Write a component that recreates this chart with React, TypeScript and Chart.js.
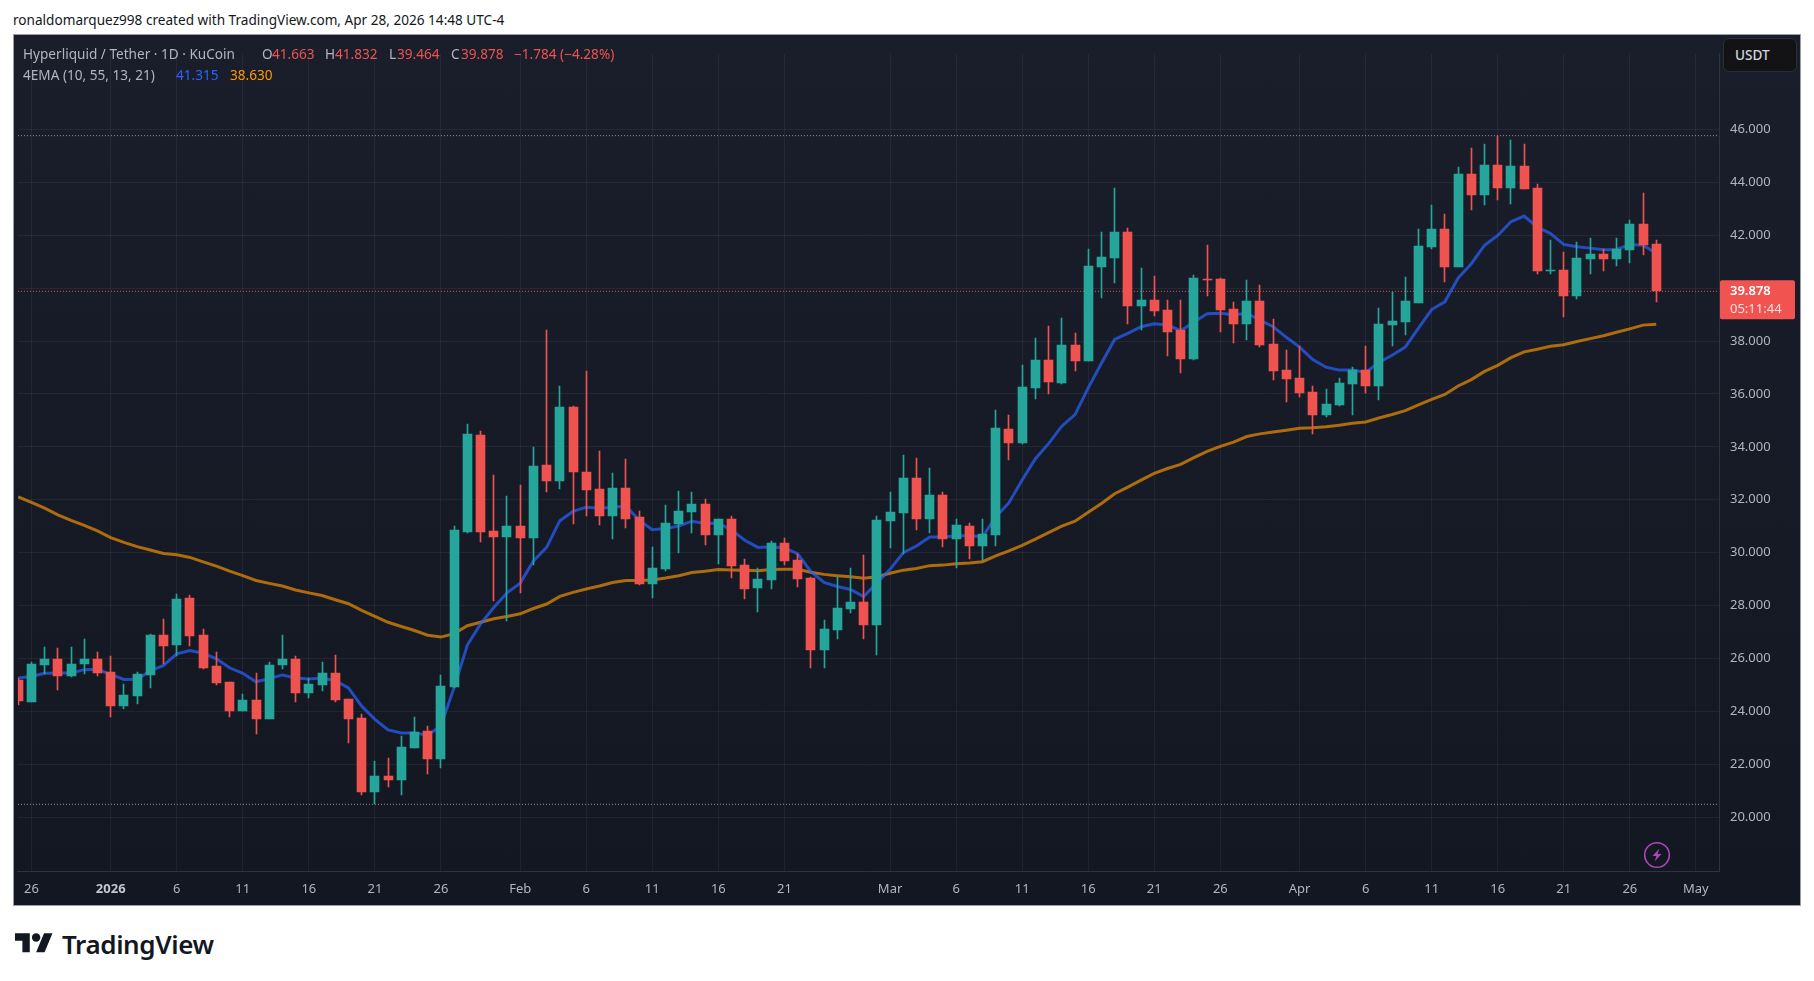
import React, { useEffect, useRef } from "react";
import { Chart, registerables } from "chart.js";

Chart.register(...registerables);

const opens = [
  25.19,24.37,25.77,25.99,25.33,25.81,25.99,25.48,24.22,24.59,
  25.37,26.88,26.51,28.28,26.88,25.70,25.11,24.00,24.44,23.70,
  25.74,25.99,24.70,25.00,25.44,24.48,23.74,20.97,21.56,21.42,
  22.63,23.26,22.19,24.94,30.78,34.43,30.81,30.59,31.00,30.55,
  33.32,32.70,35.50,33.06,32.40,31.37,32.44,31.33,28.82,29.37,
  31.07,31.55,31.85,30.66,31.26,29.52,28.67,28.97,30.37,29.74,
  29.04,26.34,27.08,27.86,28.12,27.27,31.18,31.51,32.84,31.29,
  32.18,30.52,31.00,30.26,30.66,34.67,34.15,36.22,37.29,36.41,
  37.85,37.26,40.80,41.13,42.13,39.32,39.54,39.18,38.40,37.33,
  40.36,40.36,39.21,38.66,39.51,37.88,36.89,36.59,36.07,35.19,
  35.59,36.37,36.89,36.30,38.62,38.73,39.45,41.55,42.25,40.81,
  44.32,43.51,44.65,43.80,44.62,43.77,40.66,40.70,39.70,41.11,
  41.29,41.11,41.44,42.44,41.663,
];
const closes = [
  24.41,25.81,25.99,25.33,25.81,25.99,25.44,24.22,24.63,25.40,
  26.88,26.47,28.25,26.84,25.66,25.07,24.00,24.44,23.70,25.77,
  25.99,24.70,25.03,25.44,24.44,23.70,20.97,21.56,21.42,22.67,
  23.22,22.19,24.96,30.87,34.47,30.78,30.59,31.00,30.55,33.29,
  32.70,35.50,33.06,32.36,31.37,32.44,31.29,28.82,29.41,31.11,
  31.59,31.85,30.66,31.26,29.48,28.63,29.00,30.37,29.70,29.00,
  26.34,27.12,27.90,28.12,27.27,31.22,31.55,32.84,31.26,32.18,
  30.52,31.03,30.26,30.70,34.71,34.15,36.26,37.29,36.44,37.85,
  37.26,40.84,41.17,42.13,39.32,39.54,39.14,38.33,37.33,40.39,
  40.32,39.18,38.66,39.51,37.85,36.85,36.55,36.04,35.22,35.63,
  36.41,36.89,36.30,38.66,38.77,39.51,41.59,42.25,40.81,44.32,
  43.51,44.65,43.80,44.62,43.73,40.66,40.70,39.70,41.14,41.29,
  41.11,41.48,42.44,41.62,39.878,
];
const highs = [
  25.25,25.88,26.44,26.38,26.44,26.73,26.25,26.10,25.03,25.48,
  26.92,27.51,28.43,28.39,27.10,26.25,25.11,24.66,25.44,25.88,
  26.88,26.10,25.26,25.85,26.14,24.48,23.89,22.12,22.23,23.08,
  23.78,23.45,25.37,31.02,34.87,34.58,32.92,32.14,32.55,33.99,
  38.42,36.31,35.54,36.87,33.84,33.03,33.54,31.59,30.22,31.81,
  32.33,32.29,32.03,31.26,31.40,29.78,29.41,30.44,30.55,29.96,
  29.08,27.45,29.08,29.41,29.93,31.40,32.29,33.69,33.58,33.21,
  32.29,31.29,31.11,31.26,35.39,35.22,37.11,38.10,38.58,38.88,
  38.29,41.46,42.13,43.79,42.28,40.76,40.47,39.54,39.54,40.50,
  41.61,40.39,39.47,40.32,40.10,38.84,37.66,37.81,36.30,36.18,
  36.59,37.03,37.81,39.25,39.84,40.43,42.25,43.14,42.81,44.58,
  45.28,45.46,45.76,45.58,45.43,43.95,41.81,41.37,41.74,41.88,
  41.48,41.88,42.58,43.58,41.832,
];
const lows = [
  24.23,24.37,25.40,24.81,25.30,25.40,25.33,23.78,24.11,24.30,
  24.89,25.81,26.10,26.47,25.62,25.00,23.78,24.00,23.15,23.70,
  25.62,24.37,24.52,24.78,24.37,22.82,20.86,20.49,21.16,20.86,
  22.60,21.64,21.86,24.90,30.73,30.41,28.19,27.42,28.49,29.52,
  32.29,32.40,31.07,31.37,31.03,30.52,30.92,28.78,28.30,29.30,
  30.00,30.74,30.30,29.56,29.04,28.26,27.75,28.63,29.52,28.71,
  25.64,25.64,26.75,27.71,26.75,26.12,30.18,29.96,30.85,30.74,
  30.22,29.41,29.78,29.70,30.26,33.49,34.12,35.82,36.00,36.37,
  36.85,37.26,39.62,40.21,38.66,38.40,38.95,37.44,36.78,37.29,
  39.69,38.33,37.92,38.03,37.77,36.52,35.70,35.89,34.49,35.11,
  35.56,35.19,36.04,35.78,37.81,38.22,39.45,41.48,40.22,40.78,
  42.95,43.14,43.32,43.18,43.73,40.52,40.55,38.89,39.59,40.52,
  40.66,40.85,40.96,41.26,39.464,
];
const emaFast = [
  25.26,25.32,25.44,25.45,25.45,25.58,25.59,25.40,25.21,25.22,
  25.53,25.74,26.18,26.30,26.20,25.99,25.65,25.44,25.12,25.24,
  25.38,25.26,25.23,25.26,25.16,24.89,24.20,23.70,23.30,23.19,
  23.19,23.10,23.46,24.91,26.51,27.31,27.93,28.48,28.85,29.69,
  30.20,31.21,31.56,31.72,31.68,31.72,31.76,31.23,30.87,30.91,
  31.01,31.19,31.10,31.11,30.86,30.47,30.20,30.22,30.18,29.96,
  29.29,28.88,28.72,28.61,28.34,28.86,29.37,30.00,30.25,30.59,
  30.59,30.64,30.64,30.60,31.35,31.89,32.75,33.55,34.12,34.78,
  35.22,36.23,37.16,38.06,38.29,38.54,38.65,38.61,38.39,38.72,
  39.03,39.05,38.99,39.05,38.79,38.54,38.14,37.77,37.30,37.01,
  36.90,36.90,36.81,37.19,37.46,37.77,38.49,39.19,39.48,40.38,
  40.92,41.62,41.99,42.51,42.72,42.30,42.06,41.65,41.56,41.51,
  41.45,41.46,41.65,41.62,41.315,
];
const emaSlow = [
  32.11,31.90,31.68,31.43,31.22,31.03,30.82,30.57,30.39,30.23,
  30.10,29.97,29.92,29.82,29.65,29.49,29.30,29.13,28.95,28.84,
  28.74,28.59,28.48,28.38,28.22,28.07,27.82,27.59,27.37,27.21,
  27.06,26.88,26.81,26.94,27.24,27.37,27.50,27.59,27.69,27.89,
  28.06,28.35,28.50,28.63,28.74,28.87,28.95,28.95,28.97,29.04,
  29.13,29.25,29.30,29.36,29.35,29.34,29.32,29.36,29.37,29.37,
  29.26,29.18,29.13,29.09,29.03,29.09,29.22,29.34,29.40,29.51,
  29.53,29.58,29.61,29.66,29.88,30.07,30.28,30.51,30.76,31.00,
  31.19,31.53,31.86,32.23,32.48,32.74,33.00,33.18,33.34,33.59,
  33.83,34.02,34.18,34.39,34.49,34.56,34.63,34.70,34.72,34.76,
  34.82,34.89,34.94,35.09,35.22,35.37,35.59,35.79,35.98,36.30,
  36.54,36.85,37.08,37.37,37.59,37.69,37.80,37.86,37.98,38.09,
  38.20,38.33,38.46,38.60,38.63,
];
const sessionDays = [1, 7, 12, 17, 22, 27, 32, 38, 43, 48, 53, 58, 66, 71, 76, 81, 86, 91, 97, 102, 107, 112, 117, 122, 127];
const sessionLabels = ["26", "2026", "6", "11", "16", "21", "26", "Feb", "6", "11", "16", "21", "Mar", "6", "11", "16", "21", "26", "Apr", "6", "11", "16", "21", "26", "May"];
const priceTicks = [20, 22, 24, 26, 28, 30, 32, 34, 36, 38, 40, 42, 44, 46];
const rangeHigh = 45.76;
const rangeLow = 20.49;
const lastPrice = 39.878;
const countdown = "05:11:44";

const UP = "#26a69a";
const DOWN = "#ef5350";
const FONT = "'Noto Sans', sans-serif";
const X_MIN = -0.023;
const X_MAX = 128.75;

const pricePlugin = {
  id: "priceTag",
  beforeDatasetsDraw(chart: any) {
    chart.data.datasets.forEach((ds: any, idx: number) => {
      if (ds.type !== "bar") return;
      chart.getDatasetMeta(idx).data.forEach((el: any) => {
        el.x = Math.round(el.x - 0.5) + 0.5;
        el.y = Math.round(el.y);
        el.base = Math.round(el.base);
        if (Math.abs(el.base - el.y) < 1) el.base = el.y + 1;
      });
    });
  },
  afterDraw(chart: any) {
    const { ctx, chartArea, scales } = chart;
    const py = scales.y.getPixelForValue(lastPrice);
    const left = chartArea.right + 1;
    ctx.save();
    ctx.fillStyle = "#f15350";
    ctx.beginPath();
    ctx.roundRect(left, py - 11, 75, 39, 2);
    ctx.fill();
    ctx.textBaseline = "middle";
    ctx.textAlign = "left";
    ctx.font = `600 13px ${FONT}`;
    ctx.fillStyle = "#ffffff";
    ctx.fillText(lastPrice.toFixed(3), left + 10, py);
    ctx.font = `400 13px ${FONT}`;
    ctx.fillStyle = "rgba(255,255,255,0.82)";
    ctx.fillText(countdown, left + 10, py + 18);
    ctx.restore();
  },
};

function Txt({ x, y, c, s = 14, w = 400, t, ls = 0 }: any) {
  return (
    <div
      style={{
        position: "absolute",
        left: x,
        top: y,
        transform: "translateY(-50%)",
        color: c,
        fontSize: s,
        fontWeight: w,
        fontFamily: FONT,
        letterSpacing: ls,
        whiteSpace: "pre",
        lineHeight: 1,
      }}
    >
      {t}
    </div>
  );
}

export default function App() {
  const ref = useRef<HTMLCanvasElement>(null);
  useEffect(() => {
    const idx = closes.map((_, i) => i);
    const col = (ctx: any) => (closes[ctx.dataIndex] >= opens[ctx.dataIndex] ? UP : DOWN);
    const hLine = (v: number, color: string, order: number) => ({
      type: "line",
      data: [{ x: X_MIN, y: v }, { x: X_MAX, y: v }],
      borderColor: color,
      borderWidth: 1,
      borderDash: [1, 2],
      pointRadius: 0,
      order,
    });
    const chart = new Chart(ref.current as HTMLCanvasElement, {
      type: "line",
      data: {
        datasets: [
          hLine(rangeHigh, "rgba(190,193,200,0.75)", 6),
          hLine(rangeLow, "rgba(190,193,200,0.75)", 6),
          hLine(lastPrice, "#ef5350", 6),
          {
            type: "line",
            label: "EMA 55",
            data: idx.map((i) => ({ x: i, y: emaSlow[i] })),
            borderColor: "rgba(255,152,0,0.65)",
            borderWidth: 3,
            pointRadius: 0,
            tension: 0,
            order: 5,
          },
          {
            type: "line",
            label: "EMA 10",
            data: idx.map((i) => ({ x: i, y: emaFast[i] })),
            borderColor: "rgba(41,98,255,0.7)",
            borderWidth: 3,
            pointRadius: 0,
            tension: 0,
            order: 4,
          },
          {
            type: "bar",
            label: "Wick",
            data: idx.map((i) => ({ x: i, y: [lows[i], highs[i]] })),
            backgroundColor: col,
            barThickness: 1,
            grouped: false,
            order: 3,
          },
          {
            type: "bar",
            label: "Body",
            data: idx.map((i) => ({ x: i, y: [opens[i], closes[i]] })),
            backgroundColor: col,
            barThickness: 9,
            minBarLength: 1,
            grouped: false,
            order: 2,
          },
        ] as any,
      },
      options: {
        responsive: false,
        maintainAspectRatio: false,
        animation: false,
        events: [],
        devicePixelRatio: 1,
        layout: { padding: 0 },
        plugins: { legend: { display: false }, tooltip: { enabled: false } },
        scales: {
          x: {
            type: "linear",
            offset: false,
            min: X_MIN,
            max: X_MAX,
            afterBuildTicks: (s: any) => {
              s.ticks = sessionDays.map((value) => ({ value }));
            },
            afterFit: (s: any) => {
              s.height = 34;
            },
            grid: { color: "rgba(240,243,250,0.06)", offset: false, drawTicks: false },
            border: { color: "#2f333e", width: 1 },
            ticks: {
              autoSkip: false,
              maxRotation: 0,
              padding: 10,
              color: (c: any) => (sessionLabels[c.index] === "2026" ? "#c4c7d0" : "#b2b5be"),
              font: (c: any) => ({ family: FONT, size: 13, weight: sessionLabels[c.index] === "2026" ? 700 : 400 }),
              callback: (_: any, i: number) => sessionLabels[i],
            },
          },
          y: {
            type: "linear",
            position: "right",
            min: 17.97,
            max: 48.854,
            afterBuildTicks: (s: any) => {
              s.ticks = priceTicks.map((value) => ({ value }));
            },
            afterFit: (s: any) => {
              s.width = 81;
            },
            grid: { color: "rgba(240,243,250,0.06)", drawTicks: false },
            border: { color: "#2f333e", width: 1 },
            ticks: {
              padding: 11,
              color: "#b2b5be",
              font: { family: FONT, size: 13 },
              callback: (v: any) => Number(v).toFixed(3),
            },
          },
        },
      } as any,
      plugins: [pricePlugin],
    });
    return () => chart.destroy();
  }, []);

  const grey = "#b2b5be";
  return (
    <div style={{ position: "absolute", left: 0, top: 0, width: 1814, height: 981, background: "#fff", overflow: "hidden" }}>
      <Txt x={13} y={20} c="#131722" s={13.6} t="ronaldomarquez998 created with TradingView.com, Apr 28, 2026 14:48 UTC-4" />
      <div
        style={{
          position: "absolute",
          left: 13,
          top: 34,
          width: 1788,
          height: 872,
          boxSizing: "border-box",
          border: "1px solid #9a9da6",
          background: "linear-gradient(#1a1e2a, #131722)",
        }}
      >
        <canvas ref={ref} width={1786} height={870} style={{ position: "absolute", left: 0, top: 0, width: 1786, height: 870, display: "block" }} />
      </div>

      <Txt x={23} y={54} c={grey} s={13.6} t="Hyperliquid / Tether · 1D · KuCoin" />
      <Txt x={262} y={54} c={grey} s={13.6} t="O" />
      <Txt x={272} y={54} c={DOWN} s={13.6} t="41.663" />
      <Txt x={325} y={54} c={grey} s={13.6} t="H" />
      <Txt x={335} y={54} c={DOWN} s={13.6} t="41.832" />
      <Txt x={389} y={54} c={grey} s={13.6} t="L" />
      <Txt x={397} y={54} c={DOWN} s={13.6} t="39.464" />
      <Txt x={451} y={54} c={grey} s={13.6} t="C" />
      <Txt x={461} y={54} c={DOWN} s={13.6} t="39.878" />
      <Txt x={514} y={54} c={DOWN} s={13.6} t="−1.784 (−4.28%)" />
      <Txt x={23} y={75} c={grey} s={13.6} t="4EMA (10, 55, 13, 21)" />
      <Txt x={176} y={75} c="#2962ff" s={13.6} t="41.315" />
      <Txt x={230} y={75} c="#ff9800" s={13.6} t="38.630" />

      <div
        style={{
          position: "absolute",
          left: 1723,
          top: 38,
          width: 74,
          height: 34,
          boxSizing: "border-box",
          background: "#131316",
          border: "1px solid #2a2e39",
          borderRadius: 6,
        }}
      />
      <Txt x={1735} y={55} c="#d1d4dc" s={13.6} w={500} t="USDT" />

      <svg style={{ position: "absolute", left: 1642, top: 840 }} width="30" height="30" viewBox="0 0 30 30">
        <circle cx="15" cy="15" r="12.3" fill="#131722" stroke="#ab47bc" strokeWidth="1.6" />
        <path d="M17.5 8.5 L10.5 16 H14.5 L12.5 21.5 L19.5 14 H15.5 Z" fill="#ab47bc" />
      </svg>

      <svg style={{ position: "absolute", left: 15, top: 929 }} width="38" height="24" viewBox="0 0 36 22.6">
        <path d="M14 22H7V11H0V4h14v18zM28 22h-8l7.5-18h8L28 22z" fill="#131722" />
        <circle cx="20" cy="8" r="4" fill="#131722" />
      </svg>
      <Txt x={62} y={944} c="#131722" s={26} w={600} ls={-0.4} t="TradingView" />
    </div>
  );
}
